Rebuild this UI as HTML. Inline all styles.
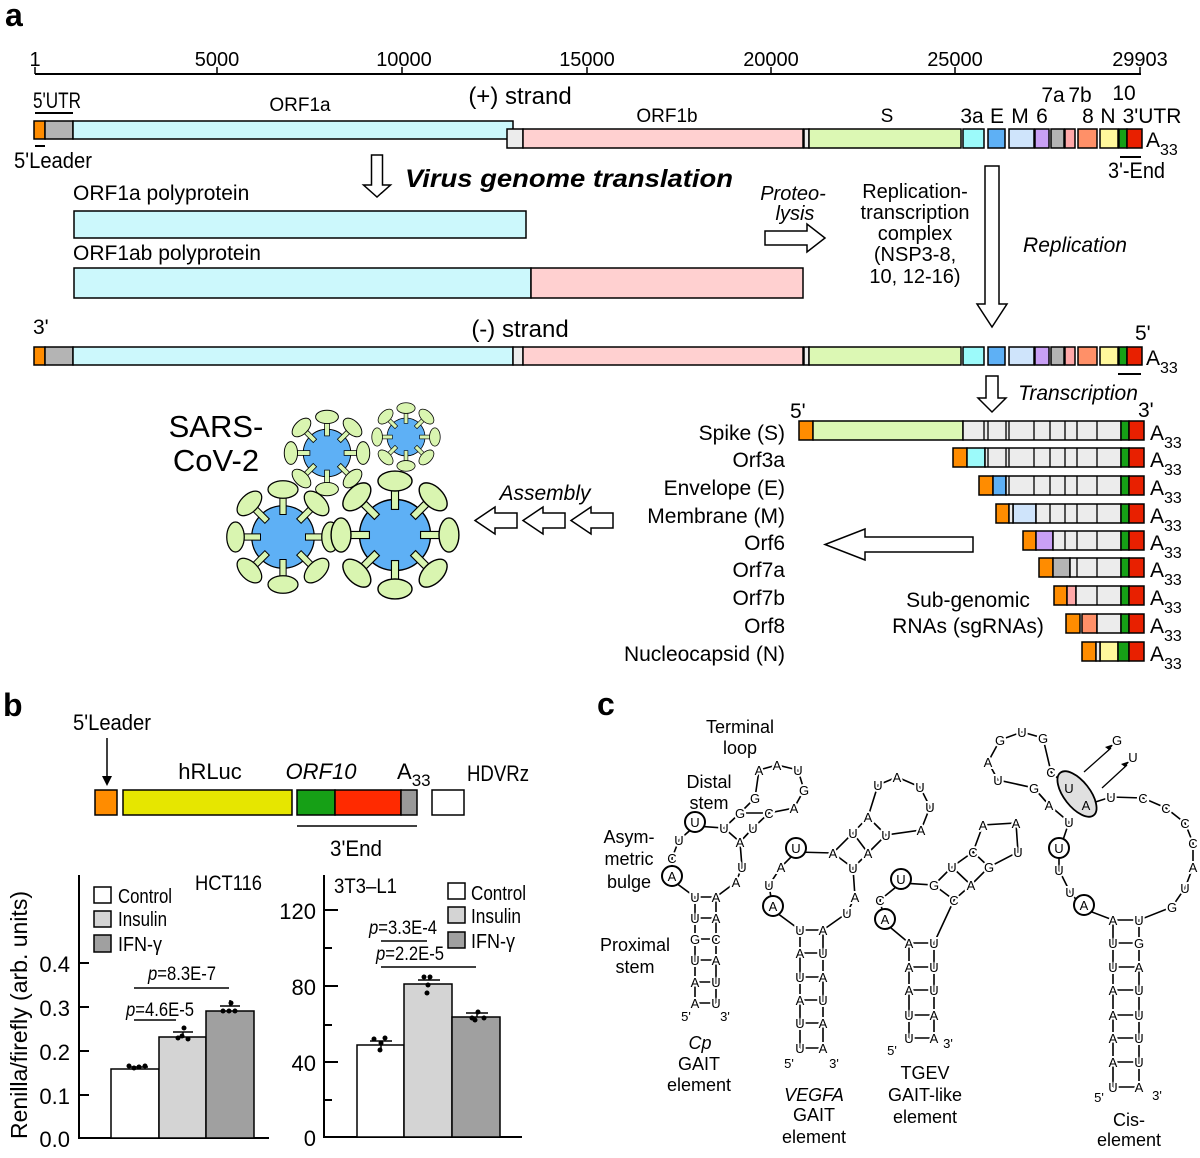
<!DOCTYPE html>
<html><head><meta charset="utf-8"><style>
html,body{margin:0;padding:0;background:#fff}
svg{display:block}
text{font-family:"Liberation Sans",sans-serif;fill:#000}
.n{font-size:13px;text-anchor:middle;paint-order:stroke;stroke:#fff;stroke-width:4px;stroke-linejoin:round}
.bb{fill:none;stroke:#000;stroke-width:1.6}
.r{stroke:#000;stroke-width:1.5}
.lab{font-size:19px;text-anchor:middle}
.sg{font-size:21px;text-anchor:end}
</style></head><body>
<svg width="1200" height="1158" viewBox="0 0 1200 1158" xmlns="http://www.w3.org/2000/svg">
<defs>
<g id="sp"><rect x="-2.5" y="-33" width="5" height="15" fill="#d9f5b0" stroke="#000" stroke-width="0.8"/><ellipse cx="0" cy="-38" rx="12" ry="7" fill="#d9f5b0" stroke="#000" stroke-width="1"/></g>
<g id="vir"><circle r="25" fill="#5eb0f5" stroke="#000" stroke-width="1"/>
<use href="#sp"/><use href="#sp" transform="rotate(45)"/><use href="#sp" transform="rotate(90)"/><use href="#sp" transform="rotate(135)"/><use href="#sp" transform="rotate(180)"/><use href="#sp" transform="rotate(225)"/><use href="#sp" transform="rotate(270)"/><use href="#sp" transform="rotate(315)"/></g>
</defs>

<!-- panel a -->
<text x="5" y="26" font-size="32" font-weight="bold">a</text>
<line x1="35" y1="74" x2="1141" y2="74" stroke="#000" stroke-width="2"/>
<g stroke="#000" stroke-width="1.5"><line x1="35" y1="67" x2="35" y2="74"/><line x1="217" y1="67" x2="217" y2="74"/><line x1="402" y1="67" x2="402" y2="74"/><line x1="587" y1="67" x2="587" y2="74"/><line x1="771" y1="67" x2="771" y2="74"/><line x1="955" y1="67" x2="955" y2="74"/><line x1="1140" y1="67" x2="1140" y2="74"/></g>
<g font-size="20" text-anchor="middle"><text x="35" y="66">1</text><text x="217" y="66">5000</text><text x="404" y="66">10000</text><text x="587" y="66">15000</text><text x="771" y="66">20000</text><text x="955" y="66">25000</text><text x="1140" y="66">29903</text></g>

<g class="r">
<rect x="34" y="121" width="11" height="18" fill="#ff8c00"/><rect x="45" y="121" width="28" height="18" fill="#b4b4b4"/><rect x="73" y="121" width="440" height="18" fill="#ccf8fc"/>
<rect x="507" y="129" width="16" height="19" fill="#ececec"/><rect x="523" y="129" width="280" height="19" fill="#ffd0d0"/><rect x="804" y="129" width="5" height="19" fill="#ececec"/><rect x="809" y="129" width="152" height="19" fill="#dcf8b4"/>
<rect x="963" y="129" width="21" height="19" fill="#9cfafa"/><rect x="988" y="129" width="17" height="19" fill="#5eb0f5"/><rect x="1009" y="129" width="25" height="19" fill="#cfe4fb"/><rect x="1035" y="129" width="14" height="19" fill="#c9a0f5"/><rect x="1051" y="129" width="13" height="19" fill="#b4b4b4"/><rect x="1065" y="129" width="10" height="19" fill="#ffa8a8"/><rect x="1078" y="129" width="19" height="19" fill="#ff9068"/><rect x="1100" y="129" width="18" height="19" fill="#fff89c"/><rect x="1119" y="129" width="8" height="19" fill="#16a016"/><rect x="1127" y="129" width="15" height="19" fill="#e82000"/>
</g>
<text x="33" y="108" font-size="22" textLength="48" lengthAdjust="spacingAndGlyphs">5'UTR</text>
<line x1="35" y1="113" x2="73" y2="113" stroke="#000" stroke-width="2"/>
<text x="300" y="111" class="lab" font-size="22">ORF1a</text>
<text x="520" y="104" font-size="24" text-anchor="middle">(+) strand</text>
<text x="667" y="122" class="lab" font-size="22">ORF1b</text>
<text x="887" y="122" class="lab" font-size="22">S</text>
<g font-size="21" text-anchor="middle"><text x="972" y="123">3a</text><text x="997" y="123">E</text><text x="1020" y="123">M</text><text x="1042" y="123">6</text><text x="1053" y="102">7a</text><text x="1080" y="102">7b</text><text x="1124" y="100">10</text><text x="1088" y="123">8</text><text x="1108" y="123">N</text><text x="1152" y="123">3'UTR</text></g>
<text x="1146" y="147" font-size="21">A<tspan font-size="16" dy="8">33</tspan></text>
<line x1="35" y1="146" x2="45" y2="146" stroke="#000" stroke-width="2"/>
<text x="14" y="168" font-size="22" textLength="78" lengthAdjust="spacingAndGlyphs">5'Leader</text>
<line x1="1120" y1="157" x2="1141" y2="157" stroke="#000" stroke-width="2"/>
<text x="1108" y="178" font-size="22" textLength="57" lengthAdjust="spacingAndGlyphs">3'-End</text>

<path d="M371.5 155 h11 v30 h8 l-13.5 12 l-13.5 -12 h8 z" fill="#fff" stroke="#000" stroke-width="1.5"/>
<text x="405" y="187" font-size="25" font-weight="bold" font-style="italic" textLength="328" lengthAdjust="spacingAndGlyphs">Virus genome translation</text>
<text x="73" y="200" font-size="21">ORF1a polyprotein</text>
<rect x="74" y="211" width="452" height="27" fill="#ccf8fc" class="r"/>
<text x="73" y="260" font-size="21">ORF1ab polyprotein</text>
<rect x="74" y="268" width="457" height="30" fill="#ccf8fc" class="r"/><rect x="531" y="268" width="272" height="30" fill="#ffd0d0" class="r"/>

<text x="793" y="200" font-size="20" font-style="italic" text-anchor="middle">Proteo-</text>
<text x="795" y="220" font-size="20" font-style="italic" text-anchor="middle">lysis</text>
<path d="M765 231 h42 v-7 l18 14 l-18 14 v-7 h-42 z" fill="#fff" stroke="#000" stroke-width="1.5"/>
<g font-size="20" text-anchor="middle"><text x="915" y="198">Replication-</text><text x="915" y="219">transcription</text><text x="915" y="240">complex</text><text x="915" y="261">(NSP3-8,</text><text x="915" y="283">10, 12-16)</text></g>
<path d="M985 166 h14 v138 h8 l-15 23 l-15 -23 h8 z" fill="#fff" stroke="#000" stroke-width="1.5"/>
<text x="1075" y="252" font-size="21" font-style="italic" text-anchor="middle">Replication</text>

<text x="33" y="334" font-size="21">3'</text>
<text x="520" y="337" font-size="24" text-anchor="middle">(-) strand</text>
<text x="1135" y="340" font-size="21">5'</text>
<g class="r">
<rect x="34" y="347" width="11" height="18" fill="#ff8c00"/><rect x="45" y="347" width="28" height="18" fill="#b4b4b4"/><rect x="73" y="347" width="440" height="18" fill="#ccf8fc"/><rect x="513" y="347" width="10" height="18" fill="#ececec"/><rect x="523" y="347" width="280" height="18" fill="#ffd0d0"/><rect x="804" y="347" width="5" height="18" fill="#ececec"/><rect x="809" y="347" width="152" height="18" fill="#dcf8b4"/>
<rect x="963" y="347" width="21" height="18" fill="#9cfafa"/><rect x="988" y="347" width="17" height="18" fill="#5eb0f5"/><rect x="1009" y="347" width="25" height="18" fill="#cfe4fb"/><rect x="1035" y="347" width="14" height="18" fill="#c9a0f5"/><rect x="1051" y="347" width="13" height="18" fill="#b4b4b4"/><rect x="1065" y="347" width="10" height="18" fill="#ffa8a8"/><rect x="1078" y="347" width="19" height="18" fill="#ff9068"/><rect x="1100" y="347" width="18" height="18" fill="#fff89c"/><rect x="1119" y="347" width="8" height="18" fill="#16a016"/><rect x="1127" y="347" width="15" height="18" fill="#e82000"/>
</g>
<text x="1146" y="365" font-size="21">A<tspan font-size="16" dy="8">33</tspan></text>
<line x1="1118" y1="374" x2="1141" y2="374" stroke="#000" stroke-width="2"/>
<path d="M986 376 h12 v22 h8 l-14 14 l-14 -14 h8 z" fill="#fff" stroke="#000" stroke-width="1.5"/>
<text x="1078" y="400" font-size="21" font-style="italic" text-anchor="middle">Transcription</text>
<text x="790" y="418" font-size="21">5'</text><text x="1138" y="417" font-size="21">3'</text>

<g class="r" stroke-width="1.5">
<rect x="799" y="421" width="14" height="19" fill="#ff8c00"/><rect x="813" y="421" width="150" height="19" fill="#dcf8b4"/><rect x="963" y="421" width="158" height="19" fill="#ececec"/>
<rect x="953" y="448" width="14" height="19" fill="#ff8c00"/><rect x="967" y="448" width="18" height="19" fill="#9cfafa"/><rect x="985" y="448" width="136" height="19" fill="#ececec"/>
<rect x="979" y="476" width="14" height="19" fill="#ff8c00"/><rect x="993" y="476" width="13" height="19" fill="#5eb0f5"/><rect x="1006" y="476" width="115" height="19" fill="#ececec"/>
<rect x="996" y="504" width="13" height="19" fill="#ff8c00"/><rect x="1013" y="504" width="23" height="19" fill="#cfe4fb"/><rect x="1036" y="504" width="85" height="19" fill="#ececec"/><rect x="1009" y="504" width="4" height="19" fill="#ececec"/>
<rect x="1023" y="531" width="13" height="19" fill="#ff8c00"/><rect x="1036" y="531" width="17" height="19" fill="#c9a0f5"/><rect x="1053" y="531" width="68" height="19" fill="#ececec"/>
<rect x="1039" y="558" width="14" height="19" fill="#ff8c00"/><rect x="1053" y="558" width="17" height="19" fill="#b4b4b4"/><rect x="1070" y="558" width="51" height="19" fill="#ececec"/>
<rect x="1054" y="586" width="13" height="19" fill="#ff8c00"/><rect x="1067" y="586" width="9" height="19" fill="#ffa8a8"/><rect x="1076" y="586" width="45" height="19" fill="#ececec"/>
<rect x="1066" y="614" width="14" height="19" fill="#ff8c00"/><rect x="1082" y="614" width="15" height="19" fill="#ff9068"/><rect x="1097" y="614" width="24" height="19" fill="#ececec"/>
<rect x="1082" y="642" width="14" height="19" fill="#ff8c00"/><rect x="1100" y="642" width="18" height="19" fill="#fff89c"/><rect x="1096" y="642" width="4" height="19" fill="#ececec"/>
</g>
<g stroke="#000" stroke-width="1.3">
<path d="M984 421v19M988 421v19M1006 421v19M1009 421v19M1034 421v19M1050 421v19M1065 421v19M1077 421v19M1097 421v19"/>
<path d="M988 448v19M1006 448v19M1009 448v19M1034 448v19M1050 448v19M1065 448v19M1077 448v19M1097 448v19"/>
<path d="M1009 476v19M1034 476v19M1050 476v19M1065 476v19M1077 476v19M1097 476v19"/>
<path d="M1050 504v19M1065 504v19M1077 504v19M1097 504v19"/>
<path d="M1065 531v19M1077 531v19M1097 531v19"/>
<path d="M1077 558v19M1097 558v19"/>
<path d="M1097 586v19"/>
</g>
<g class="r">
<rect x="1121" y="421" width="8" height="19" fill="#16a016"/><rect x="1129" y="421" width="15" height="19" fill="#e82000"/>
<rect x="1121" y="448" width="8" height="19" fill="#16a016"/><rect x="1129" y="448" width="15" height="19" fill="#e82000"/>
<rect x="1121" y="476" width="8" height="19" fill="#16a016"/><rect x="1129" y="476" width="15" height="19" fill="#e82000"/>
<rect x="1121" y="504" width="8" height="19" fill="#16a016"/><rect x="1129" y="504" width="15" height="19" fill="#e82000"/>
<rect x="1121" y="531" width="8" height="19" fill="#16a016"/><rect x="1129" y="531" width="15" height="19" fill="#e82000"/>
<rect x="1121" y="558" width="8" height="19" fill="#16a016"/><rect x="1129" y="558" width="15" height="19" fill="#e82000"/>
<rect x="1121" y="586" width="8" height="19" fill="#16a016"/><rect x="1129" y="586" width="15" height="19" fill="#e82000"/>
<rect x="1121" y="614" width="8" height="19" fill="#16a016"/><rect x="1129" y="614" width="15" height="19" fill="#e82000"/>
<rect x="1118" y="642" width="11" height="19" fill="#16a016"/><rect x="1129" y="642" width="15" height="19" fill="#e82000"/>
</g>
<g font-size="21"><text x="1150" y="440">A<tspan font-size="16" dy="8">33</tspan></text><text x="1150" y="467">A<tspan font-size="16" dy="8">33</tspan></text><text x="1150" y="495">A<tspan font-size="16" dy="8">33</tspan></text><text x="1150" y="523">A<tspan font-size="16" dy="8">33</tspan></text><text x="1150" y="550">A<tspan font-size="16" dy="8">33</tspan></text><text x="1150" y="577">A<tspan font-size="16" dy="8">33</tspan></text><text x="1150" y="605">A<tspan font-size="16" dy="8">33</tspan></text><text x="1150" y="633">A<tspan font-size="16" dy="8">33</tspan></text><text x="1150" y="661">A<tspan font-size="16" dy="8">33</tspan></text></g>
<g class="sg"><text x="785" y="440">Spike (S)</text><text x="785" y="467">Orf3a</text><text x="785" y="495">Envelope (E)</text><text x="785" y="523">Membrane (M)</text><text x="785" y="550">Orf6</text><text x="785" y="577">Orf7a</text><text x="785" y="605">Orf7b</text><text x="785" y="633">Orf8</text><text x="785" y="661">Nucleocapsid (N)</text></g>
<text x="968" y="607" font-size="21" text-anchor="middle">Sub-genomic</text>
<text x="968" y="633" font-size="21" text-anchor="middle">RNAs (sgRNAs)</text>
<path d="M973 537 v15 h-108 v8 l-40 -15.5 l40 -15.5 v8 z" fill="#fff" stroke="#000" stroke-width="1.5"/>

<text x="545" y="500" font-size="21" font-style="italic" text-anchor="middle">Assembly</text>
<g fill="#fff" stroke="#000" stroke-width="1.5">
<path d="M517 513 v15 h-22 v6 l-20 -13.5 l20 -13.5 v6 z"/>
<path d="M565 513 v15 h-22 v6 l-20 -13.5 l20 -13.5 v6 z"/>
<path d="M613 513 v15 h-22 v6 l-20 -13.5 l20 -13.5 v6 z"/>
</g>
<text x="216" y="437" font-size="31" text-anchor="middle">SARS-</text>
<text x="216" y="471" font-size="31" text-anchor="middle">CoV-2</text>
<use href="#vir" transform="translate(327,453) scale(0.95)"/>
<use href="#vir" transform="translate(406,437) scale(0.76)"/>
<use href="#vir" transform="translate(283,537) scale(1.25)"/>
<use href="#vir" transform="translate(395,535) scale(1.42)"/>

<!-- panel b -->
<text x="3" y="716" font-size="32" font-weight="bold">b</text>
<text x="73" y="730" font-size="22" textLength="78" lengthAdjust="spacingAndGlyphs">5'Leader</text>
<line x1="107" y1="738" x2="107" y2="780" stroke="#000" stroke-width="1.5"/><path d="M102 776 l5 10 l5 -10 z"/>
<g class="r">
<rect x="95" y="790" width="22" height="25" fill="#ff8c00"/><rect x="123" y="790" width="169" height="25" fill="#e6e600"/><rect x="297" y="790" width="38" height="25" fill="#16a016"/><rect x="335" y="790" width="66" height="25" fill="#ff2a00"/><rect x="401" y="790" width="16" height="25" fill="#999"/><rect x="432" y="790" width="32" height="25" fill="#fff"/>
</g>
<text x="210" y="779" font-size="22" text-anchor="middle">hRLuc</text>
<text x="321" y="779" font-size="22" font-style="italic" text-anchor="middle">ORF10</text>
<text x="397" y="779" font-size="22">A<tspan font-size="17" dy="7">33</tspan></text>
<text x="467" y="781" font-size="22" textLength="62" lengthAdjust="spacingAndGlyphs">HDVRz</text>
<line x1="297" y1="826" x2="417" y2="826" stroke="#000" stroke-width="1.5"/>
<text x="356" y="856" font-size="22" text-anchor="middle" textLength="52" lengthAdjust="spacingAndGlyphs">3'End</text>

<text transform="translate(27,1015) rotate(-90)" font-size="23" text-anchor="middle">Renilla/firefly (arb. units)</text>
<path d="M79 875 V1138 H269" fill="none" stroke="#000" stroke-width="2"/>
<path d="M79 963h10M79 1007h10M79 1051h10M79 1095h10" stroke="#000" stroke-width="2"/>
<g font-size="22" text-anchor="end"><text x="70" y="972">0.4</text><text x="70" y="1016">0.3</text><text x="70" y="1060">0.2</text><text x="70" y="1104">0.1</text><text x="70" y="1147">0.0</text></g>
<rect x="111" y="1069" width="48" height="69" fill="#fff" class="r"/>
<rect x="159" y="1037" width="47" height="101" fill="#d4d4d4" class="r"/>
<rect x="206" y="1011" width="48" height="127" fill="#a0a0a0" class="r"/>
<g stroke="#000" stroke-width="1.5"><path d="M128 1067h20M138 1067v-2M173 1032h20M183 1032v6M220 1006h20M230 1006v-6"/></g>
<g fill="#000"><circle cx="129" cy="1066" r="2.5"/><circle cx="134" cy="1068" r="2.5"/><circle cx="139" cy="1067" r="2.5"/><circle cx="145" cy="1066" r="2.5"/><circle cx="178" cy="1038" r="2.5"/><circle cx="184" cy="1028" r="2.5"/><circle cx="188" cy="1039" r="2.5"/><circle cx="182" cy="1036" r="2.5"/><circle cx="223" cy="1011" r="2.5"/><circle cx="229" cy="1011" r="2.5"/><circle cx="235" cy="1011" r="2.5"/><circle cx="231" cy="1003" r="2.5"/></g>
<text x="148" y="980" font-size="19" textLength="68" lengthAdjust="spacingAndGlyphs"><tspan font-style="italic">p</tspan>=8.3E-7</text>
<line x1="134" y1="988" x2="229" y2="988" stroke="#000" stroke-width="1.5"/>
<text x="126" y="1016" font-size="19" textLength="68" lengthAdjust="spacingAndGlyphs"><tspan font-style="italic">p</tspan>=4.6E-5</text>
<line x1="134" y1="1020" x2="176" y2="1020" stroke="#000" stroke-width="1.5"/>
<rect x="94" y="887" width="17" height="16" fill="#fff" class="r"/><rect x="94" y="911" width="17" height="16" fill="#d4d4d4" class="r"/><rect x="94" y="935" width="17" height="17" fill="#a0a0a0" class="r"/>
<g font-size="20"><text x="118" y="903" textLength="54" lengthAdjust="spacingAndGlyphs">Control</text><text x="118" y="926" textLength="49" lengthAdjust="spacingAndGlyphs">Insulin</text><text x="118" y="951" textLength="44" lengthAdjust="spacingAndGlyphs">IFN-γ</text></g>
<text x="195" y="890" font-size="21" textLength="67" lengthAdjust="spacingAndGlyphs">HCT116</text>

<path d="M324 875 V1137 H522" fill="none" stroke="#000" stroke-width="2"/>
<path d="M324 910h14M324 948h8M324 986h14M324 1025h8M324 1062h14M324 1100h8" stroke="#000" stroke-width="2"/>
<g font-size="22" text-anchor="end"><text x="316" y="919">120</text><text x="316" y="995">80</text><text x="316" y="1071">40</text><text x="316" y="1146">0</text></g>
<rect x="357" y="1045" width="47" height="92" fill="#fff" class="r"/>
<rect x="404" y="984" width="48" height="153" fill="#d4d4d4" class="r"/>
<rect x="452" y="1017" width="48" height="120" fill="#a0a0a0" class="r"/>
<g stroke="#000" stroke-width="1.5"><path d="M370 1041h22M381 1041v10M418 980h22M429 980v-4M466 1013h22M477 1013v4"/></g>
<g fill="#000"><circle cx="374" cy="1039" r="2.5"/><circle cx="381" cy="1043" r="2.5"/><circle cx="385" cy="1038" r="2.5"/><circle cx="380" cy="1050" r="2.5"/><circle cx="424" cy="977" r="2.5"/><circle cx="430" cy="977" r="2.5"/><circle cx="428" cy="985" r="2.5"/><circle cx="427" cy="993" r="2.5"/><circle cx="472" cy="1018" r="2.5"/><circle cx="478" cy="1012" r="2.5"/><circle cx="484" cy="1018" r="2.5"/><circle cx="475" cy="1020" r="2.5"/></g>
<text x="369" y="934" font-size="19" textLength="68" lengthAdjust="spacingAndGlyphs"><tspan font-style="italic">p</tspan>=3.3E-4</text>
<line x1="381" y1="941" x2="427" y2="941" stroke="#000" stroke-width="1.5"/>
<text x="376" y="960" font-size="19" textLength="68" lengthAdjust="spacingAndGlyphs"><tspan font-style="italic">p</tspan>=2.2E-5</text>
<line x1="381" y1="967" x2="476" y2="967" stroke="#000" stroke-width="1.5"/>
<rect x="448" y="883" width="17" height="16" fill="#fff" class="r"/><rect x="448" y="907" width="17" height="16" fill="#d4d4d4" class="r"/><rect x="448" y="932" width="17" height="16" fill="#a0a0a0" class="r"/>
<g font-size="20"><text x="471" y="900" textLength="55" lengthAdjust="spacingAndGlyphs">Control</text><text x="471" y="923" textLength="50" lengthAdjust="spacingAndGlyphs">Insulin</text><text x="471" y="948" textLength="44" lengthAdjust="spacingAndGlyphs">IFN-γ</text></g>
<text x="334" y="893" font-size="21" textLength="63" lengthAdjust="spacingAndGlyphs">3T3–L1</text>

<!-- panel c -->
<text x="597" y="715" font-size="32" font-weight="bold">c</text>
<g font-size="18" text-anchor="middle">
<text x="740" y="733">Terminal</text><text x="740" y="754">loop</text>
<text x="709" y="788">Distal</text><text x="709" y="809">stem</text>
<text x="629" y="843">Asym-</text><text x="629" y="865">metric</text><text x="629" y="888">bulge</text>
<text x="635" y="951">Proximal</text><text x="635" y="973">stem</text>
<text x="700" y="1049" font-style="italic">Cp</text><text x="699" y="1070">GAIT</text><text x="699" y="1091">element</text>
<text x="814" y="1101" font-style="italic">VEGFA</text><text x="814" y="1121">GAIT</text><text x="814" y="1143">element</text>
<text x="925" y="1079">TGEV</text><text x="925" y="1101">GAIT-like</text><text x="925" y="1123">element</text>
<text x="1129" y="1126">Cis-</text><text x="1129" y="1146">element</text>
</g>
<polyline class="bb" points="695,1003 695,897 672,880 672,858 679,840 695,826 724,828 740,813 755,798 759,770 777,765 798,770 804,790 794,808 769,813 753,828 740,842 742,867 736,882 716,897 716,1003"/>
<polyline class="bb" points="800,1048 800,930 773,910 769,885 781,867 796,852 833,853 853,833 868,817 878,785 897,777 920,787 930,807 921,830 886,835 868,853 853,868 855,897 847,913 823,930 823,1048"/>
<polyline class="bb" points="909,1038 909,943 885,923 880,900 901,883 934,885 952,867 973,852 983,825 1016,823 1018,852 989,867 971,885 954,900 934,943 934,1038"/>
<polyline class="bb" points="1113,1087 1113,920 1084,909 1070,892 1059,870 1059,852 1069,822 1049,805 1034,788 998,780 988,762 1000,740 1022,732 1043,738 1051,772 1069,788 1086,805 1111,797 1143,798 1166,808 1185,823 1193,843 1193,867 1185,888 1172,907 1139,920 1139,1087"/>
<g stroke="#000" stroke-width="1.6">
<path d="M695 897h21M695 918h21M695 939h21M695 960h21M695 982h21M695 1003h21M740 813h29M724 828l16 14M753 828l-13 14"/>
<path d="M800 930h23M800 953h23M800 977h23M800 1000h23M800 1023h23M800 1048h23M853 833l15 20M868 817l18 18M833 853l20 15"/>
<path d="M909 943h25M909 967h25M909 990h25M909 1015h25M909 1038h25M934 885l20 15M952 867l19 18M973 852l16 15"/>
<path d="M1113 920h26M1113 943h26M1113 967h26M1113 990h26M1113 1015h26M1113 1038h26M1113 1062h26M1113 1087h26M1034 788l15 17M1051 772l18 16"/>
</g>
<ellipse cx="1077" cy="794" rx="13" ry="27" transform="rotate(-38 1077 794)" fill="#e0e0e0" stroke="#000" stroke-width="1.8"/>
<g stroke="#000" stroke-width="1.3"><line x1="1084" y1="772" x2="1111" y2="748"/><line x1="1102" y1="788" x2="1127" y2="765"/></g>
<path d="M1114 744 l-9 3 l4 3 z M1130 761 l-9 3 l4 3 z"/>
<g fill="#fff" stroke="#000" stroke-width="2"><circle cx="672" cy="876" r="10"/><circle cx="695" cy="822" r="10"/><circle cx="773" cy="906" r="10"/><circle cx="796" cy="848" r="10"/><circle cx="885" cy="919" r="10"/><circle cx="901" cy="879" r="10"/><circle cx="1084" cy="905" r="10"/><circle cx="1059" cy="848" r="10"/></g>
<g class="n">
<text x="695" y="1008">A</text><text x="695" y="987">A</text><text x="695" y="965">U</text><text x="695" y="944">G</text><text x="695" y="923">U</text><text x="695" y="902">U</text>
<text x="716" y="1008">U</text><text x="716" y="987">U</text><text x="716" y="965">A</text><text x="716" y="944">C</text><text x="716" y="923">A</text><text x="716" y="902">A</text>
<text x="672" y="863">C</text><text x="679" y="845">U</text><text x="724" y="833">U</text><text x="740" y="818">G</text><text x="755" y="803">G</text><text x="759" y="775">A</text><text x="777" y="770">A</text><text x="798" y="775">U</text><text x="804" y="795">G</text><text x="794" y="813">A</text><text x="769" y="818">C</text><text x="753" y="833">U</text><text x="740" y="847">A</text><text x="742" y="872">U</text><text x="736" y="887">A</text>
<text x="800" y="1053">U</text><text x="800" y="1028">U</text><text x="800" y="1005">A</text><text x="800" y="982">U</text><text x="800" y="958">A</text><text x="800" y="935">U</text>
<text x="823" y="1053">A</text><text x="823" y="1028">A</text><text x="823" y="1005">U</text><text x="823" y="982">A</text><text x="823" y="958">U</text><text x="823" y="935">A</text>
<text x="769" y="890">U</text><text x="781" y="872">A</text><text x="833" y="858">A</text><text x="853" y="838">U</text><text x="868" y="822">A</text><text x="878" y="790">U</text><text x="897" y="782">A</text><text x="920" y="792">U</text><text x="930" y="812">U</text><text x="921" y="835">A</text><text x="886" y="840">U</text><text x="868" y="858">A</text><text x="853" y="873">U</text><text x="855" y="902">A</text><text x="847" y="918">U</text>
<text x="909" y="1043">U</text><text x="909" y="1020">U</text><text x="909" y="995">A</text><text x="909" y="972">A</text><text x="909" y="948">A</text>
<text x="934" y="1043">A</text><text x="934" y="1020">A</text><text x="934" y="995">U</text><text x="934" y="972">U</text><text x="934" y="948">U</text>
<text x="880" y="905">C</text><text x="934" y="890">G</text><text x="952" y="872">U</text><text x="973" y="857">C</text><text x="983" y="830">A</text><text x="1016" y="828">A</text><text x="1018" y="857">U</text><text x="989" y="872">G</text><text x="971" y="890">A</text><text x="954" y="905">C</text>
<text x="1113" y="1092">U</text><text x="1113" y="1067">A</text><text x="1113" y="1043">A</text><text x="1113" y="1020">A</text><text x="1113" y="995">A</text><text x="1113" y="972">U</text><text x="1113" y="948">U</text><text x="1113" y="925">A</text>
<text x="1139" y="1092">A</text><text x="1139" y="1067">U</text><text x="1139" y="1043">U</text><text x="1139" y="1020">U</text><text x="1139" y="995">U</text><text x="1139" y="972">A</text><text x="1139" y="948">G</text><text x="1139" y="925">U</text>
<text x="1070" y="897">U</text><text x="1059" y="875">U</text><text x="1069" y="827">U</text><text x="1049" y="810">A</text><text x="1034" y="793">G</text><text x="998" y="785">U</text><text x="988" y="767">A</text><text x="1000" y="745">G</text><text x="1022" y="737">U</text><text x="1043" y="743">G</text><text x="1051" y="777">C</text><text x="1111" y="802">U</text><text x="1143" y="803">C</text><text x="1166" y="813">C</text><text x="1185" y="828">C</text><text x="1193" y="848">C</text><text x="1193" y="872">A</text><text x="1185" y="893">U</text><text x="1172" y="912">G</text>
<text x="1117" y="745">G</text><text x="1133" y="762">U</text>
</g>
<g font-size="13" text-anchor="middle">
<text x="672" y="881">A</text><text x="695" y="827">U</text><text x="773" y="911">A</text><text x="796" y="853">U</text><text x="885" y="924">A</text><text x="901" y="884">U</text><text x="1084" y="910">A</text><text x="1059" y="853">U</text>
<text x="1069" y="793">U</text><text x="1086" y="810">A</text>
<text x="686" y="1021">5'</text><text x="725" y="1021">3'</text><text x="789" y="1068">5'</text><text x="834" y="1068">3'</text><text x="892" y="1055">5'</text><text x="948" y="1048">3'</text><text x="1099" y="1102">5'</text><text x="1157" y="1100">3'</text>
</g>
</svg>
</body></html>
